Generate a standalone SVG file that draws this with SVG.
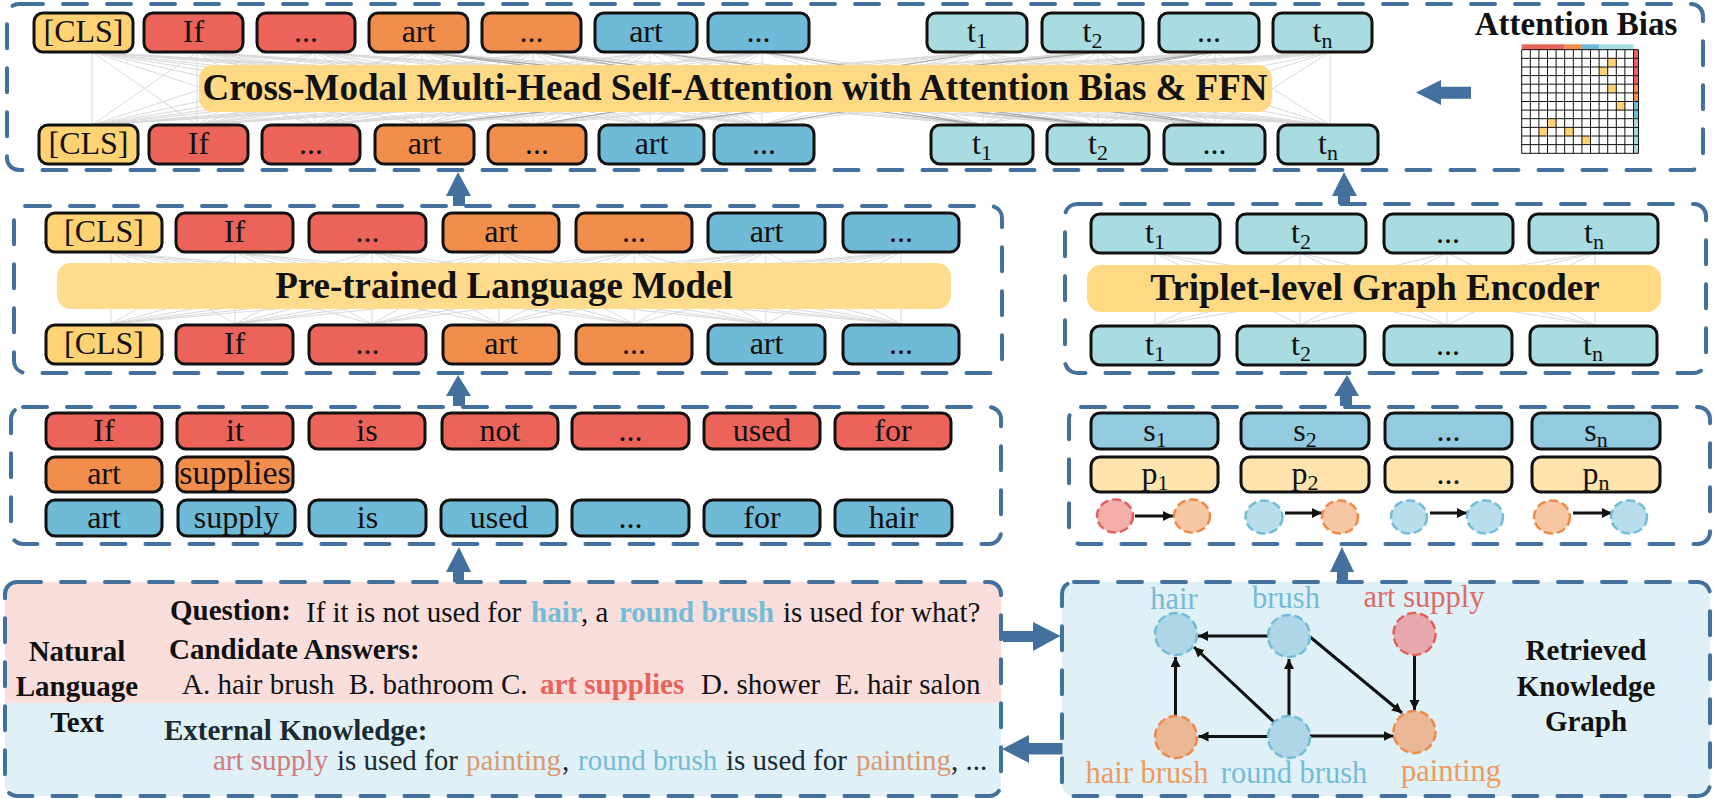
<svg xmlns="http://www.w3.org/2000/svg" width="1714" height="799" viewBox="0 0 1714 799">
<style>
text{font-family:"Liberation Serif","Times New Roman",serif;fill:#111}
.b{stroke:#111;stroke-width:3;rx:9px}
.cls{fill:#FFD274}.red{fill:#EC6459}.org{fill:#F28E4C}.blu{fill:#6FBAD6}.tea{fill:#A9DCE0}.sb{fill:#92CBE0}.pb{fill:#FFE4AE}
.l{font-size:32px;text-anchor:middle}
.sub{font-size:22px}
.pn{fill:none;stroke:#44709D;stroke-width:4;stroke-dasharray:24 20;stroke-linecap:round}
.band{fill:#FFD984;rx:14px}
.t{font-weight:bold;font-size:37px;text-anchor:middle}
.bd{font-weight:bold;font-size:29px}
.mid{text-anchor:middle}
.tx{font-size:29px}
.ar{fill:#44709D}
.fan{fill:none;stroke:#D9D9D9;stroke-width:1}
.edge{fill:none;stroke:#111;stroke-width:3;marker-end:url(#ah)}
.dot{stroke-width:2.5;stroke-dasharray:9 4}
.kg{font-size:30.5px;text-anchor:middle}
.nb{fill:#AED6E6;stroke:#74BBD7}.nr{fill:#E6A8AC;stroke:#E0605C}.no{fill:#EAB896;stroke:#EE8A48}
.lb{fill:#B9DEEB;stroke:#74BBD7}.lr{fill:#F4AFAB;stroke:#E0605C}.lo{fill:#F7C6A3;stroke:#EE8A48}
.grid{fill:none;stroke:#111;stroke-width:1}
</style>
<defs>
<marker id="ah" markerUnits="userSpaceOnUse" markerWidth="12" markerHeight="12" refX="10" refY="5" orient="auto"><path d="M0 0L10 5L0 10Z" fill="#111"/></marker>
</defs>

<g id="panels">
<path d="M5 594Q5 582 17 582H989Q1001 582 1001 594V703H5Z" fill="#FADEDC"/>
<path d="M5 703H1001V784Q1001 796 989 796H17Q5 796 5 784Z" fill="#E0F0F7"/>
<rect x="1062" y="582" width="648" height="214" rx="12" fill="#E0F0F7"/>
<rect class="pn" x="7" y="4" width="1696" height="166" rx="12"/>
<rect class="pn" x="14" y="206" width="988" height="167" rx="12"/>
<rect class="pn" x="1065" y="204" width="641" height="169" rx="12"/>
<rect class="pn" x="11" y="407" width="990" height="137" rx="12"/>
<rect class="pn" x="1069" y="407" width="641" height="137" rx="12"/>
<rect class="pn" x="5" y="582" width="996" height="214" rx="12"/>
<rect class="pn" x="1062" y="582" width="648" height="214" rx="12"/>
</g>

<g id="connectors">
<path class="fan" d="M92 52L92 125M92 52L197 125M92 52L315 125M92 52L422 125M92 52L533 125M92 52L650 125M92 52L762 125M92 52L983 125M92 52L1098 125M92 52L1215 125M92 52L1330 125
M197 52L92 125M197 52L197 125M197 52L315 125M197 52L422 125M197 52L533 125M197 52L650 125M197 52L762 125M197 52L983 125M197 52L1098 125M197 52L1215 125M197 52L1330 125
M315 52L92 125M315 52L197 125M315 52L315 125M315 52L422 125M315 52L533 125M315 52L650 125M315 52L762 125M315 52L983 125M315 52L1098 125M315 52L1215 125M315 52L1330 125
M422 52L92 125M422 52L197 125M422 52L315 125M422 52L422 125M422 52L533 125M422 52L650 125M422 52L762 125M422 52L983 125M422 52L1098 125M422 52L1215 125M422 52L1330 125
M533 52L92 125M533 52L197 125M533 52L315 125M533 52L422 125M533 52L533 125M533 52L650 125M533 52L762 125M533 52L983 125M533 52L1098 125M533 52L1215 125M533 52L1330 125
M650 52L92 125M650 52L197 125M650 52L315 125M650 52L422 125M650 52L533 125M650 52L650 125M650 52L762 125M650 52L983 125M650 52L1098 125M650 52L1215 125M650 52L1330 125
M762 52L92 125M762 52L197 125M762 52L315 125M762 52L422 125M762 52L533 125M762 52L650 125M762 52L762 125M762 52L983 125M762 52L1098 125M762 52L1215 125M762 52L1330 125
M983 52L92 125M983 52L197 125M983 52L315 125M983 52L422 125M983 52L533 125M983 52L650 125M983 52L762 125M983 52L983 125M983 52L1098 125M983 52L1215 125M983 52L1330 125
M1098 52L92 125M1098 52L197 125M1098 52L315 125M1098 52L422 125M1098 52L533 125M1098 52L650 125M1098 52L762 125M1098 52L983 125M1098 52L1098 125M1098 52L1215 125M1098 52L1330 125
M1215 52L92 125M1215 52L197 125M1215 52L315 125M1215 52L422 125M1215 52L533 125M1215 52L650 125M1215 52L762 125M1215 52L983 125M1215 52L1098 125M1215 52L1215 125M1215 52L1330 125
M1330 52L92 125M1330 52L197 125M1330 52L315 125M1330 52L422 125M1330 52L533 125M1330 52L650 125M1330 52L762 125M1330 52L983 125M1330 52L1098 125M1330 52L1215 125M1330 52L1330 125"/>
<path d="M422 52L983 125M422 52L1098 125M533 52L983 125M533 52L1098 125M650 52L1215 125M762 52L1215 125M1098 52L422 125M1215 52L650 125M1215 52L762 125M983 52L533 125" fill="none" stroke="#A8A8A8" stroke-width="1.2"/>
<path class="fan" d="M111 252L111 324M111 252L235 324M111 252L372 324M111 252L499 324M111 252L634 324M111 252L766 324M111 252L901 324
M235 252L111 324M235 252L235 324M235 252L372 324M235 252L499 324M235 252L634 324M235 252L766 324M235 252L901 324
M372 252L111 324M372 252L235 324M372 252L372 324M372 252L499 324M372 252L634 324M372 252L766 324M372 252L901 324
M499 252L111 324M499 252L235 324M499 252L372 324M499 252L499 324M499 252L634 324M499 252L766 324M499 252L901 324
M634 252L111 324M634 252L235 324M634 252L372 324M634 252L499 324M634 252L634 324M634 252L766 324M634 252L901 324
M766 252L111 324M766 252L235 324M766 252L372 324M766 252L499 324M766 252L634 324M766 252L766 324M766 252L901 324
M901 252L111 324M901 252L235 324M901 252L372 324M901 252L499 324M901 252L634 324M901 252L766 324M901 252L901 324"/>
<path class="fan" d="M1155 253L1155 325M1155 253L1300 325M1155 253L1447 325M1155 253L1595 325
M1300 253L1155 325M1300 253L1300 325M1300 253L1447 325M1300 253L1595 325
M1447 253L1155 325M1447 253L1300 325M1447 253L1447 325M1447 253L1595 325
M1595 253L1155 325M1595 253L1300 325M1595 253L1447 325M1595 253L1595 325"/>
<path class="edge" d="M1268.5 636H1198"/>
<path class="edge" d="M1175.5 715V657"/>
<path class="edge" d="M1274 722L1194 647"/>
<path class="edge" d="M1289 717V659"/>
<path class="edge" d="M1309 636L1402 713"/>
<path class="edge" d="M1414.5 655V710"/>
<path class="edge" d="M1269 736.5H1198.5"/>
<path class="edge" d="M1309 736H1393.5"/>
<path class="edge" d="M1135 516H1173"/>
<path class="edge" d="M1285 513H1322"/>
<path class="edge" d="M1430 513H1467"/>
<path class="edge" d="M1573 513H1612"/>
<path class="ar" d="M458 172L471 196H465V206H453V196H446Z"/>
<path class="ar" d="M1344 172L1357 196H1350V204H1338V196H1332Z"/>
<path class="ar" d="M458 375L471 396H465V406H453V396H446Z"/>
<path class="ar" d="M1347 375L1359 396H1352V406H1340V396H1334Z"/>
<path class="ar" d="M459 547L471 572H464V582H453V572H446Z"/>
<path class="ar" d="M1342 547L1354 572H1348V582H1337V572H1330Z"/>
<path class="ar" d="M1416 92.5L1441 80V86.7H1471V98.7H1441V105Z"/>
<path class="ar" d="M1003 631H1033V622L1060.5 636L1033 651V642H1003Z"/>
<path class="ar" d="M1002 749L1029 735V743H1062.5V754.5H1029V763Z"/>
</g>

<g id="top-in">
<g id="t1"><rect class="b cls" x="34" y="13" width="99" height="39"/><text class="l" x="83.5" y="42">[CLS]</text></g>
<g id="t2"><rect class="b red" x="144" y="13" width="99" height="39"/><text class="l" x="193.5" y="42">If</text></g>
<g id="t3"><rect class="b red" x="257" y="13" width="98" height="39"/><text class="l" x="306" y="42">...</text></g>
<g id="t4"><rect class="b org" x="369" y="13" width="99" height="39"/><text class="l" x="418.5" y="42">art</text></g>
<g id="t5"><rect class="b org" x="482" y="13" width="99" height="39"/><text class="l" x="531.5" y="42">...</text></g>
<g id="t6"><rect class="b blu" x="595" y="13" width="102" height="39"/><text class="l" x="646" y="42">art</text></g>
<g id="t7"><rect class="b blu" x="708" y="13" width="101" height="39"/><text class="l" x="758.5" y="42">...</text></g>
<g id="t8"><rect class="b tea" x="927" y="13" width="100" height="39"/><text class="l" x="977" y="42">t<tspan class="sub" dy="6">1</tspan></text></g>
<g id="t9"><rect class="b tea" x="1042" y="13" width="101" height="39"/><text class="l" x="1092.5" y="42">t<tspan class="sub" dy="6">2</tspan></text></g>
<g id="t10"><rect class="b tea" x="1159" y="13" width="100" height="39"/><text class="l" x="1209" y="42">...</text></g>
<g id="t11"><rect class="b tea" x="1273" y="13" width="99" height="39"/><text class="l" x="1322.5" y="42">t<tspan class="sub" dy="6">n</tspan></text></g>
</g>
<g id="cross-band"><rect class="band" x="199" y="65" width="1073" height="47"/><text class="t" x="735" y="100">Cross-Modal Multi-Head Self-Attention with Attention Bias &amp; FFN</text></g>
<g id="top-out">
<g id="b1"><rect class="b cls" x="39" y="125" width="99" height="39"/><text class="l" x="88.5" y="154">[CLS]</text></g>
<g id="b2"><rect class="b red" x="149" y="125" width="99" height="39"/><text class="l" x="198.5" y="154">If</text></g>
<g id="b3"><rect class="b red" x="262" y="125" width="98" height="39"/><text class="l" x="311" y="154">...</text></g>
<g id="b4"><rect class="b org" x="375" y="125" width="99" height="39"/><text class="l" x="424.5" y="154">art</text></g>
<g id="b5"><rect class="b org" x="488" y="125" width="98" height="39"/><text class="l" x="537" y="154">...</text></g>
<g id="b6"><rect class="b blu" x="599" y="125" width="105" height="39"/><text class="l" x="651.5" y="154">art</text></g>
<g id="b7"><rect class="b blu" x="714" y="125" width="100" height="39"/><text class="l" x="764" y="154">...</text></g>
<g id="b8"><rect class="b tea" x="931" y="125" width="102" height="39"/><text class="l" x="982" y="154">t<tspan class="sub" dy="6">1</tspan></text></g>
<g id="b9"><rect class="b tea" x="1047" y="125" width="102" height="39"/><text class="l" x="1098" y="154">t<tspan class="sub" dy="6">2</tspan></text></g>
<g id="b10"><rect class="b tea" x="1164" y="125" width="101" height="39"/><text class="l" x="1214.5" y="154">...</text></g>
<g id="b11"><rect class="b tea" x="1278" y="125" width="100" height="39"/><text class="l" x="1328" y="154">t<tspan class="sub" dy="6">n</tspan></text></g>
</g>

<g id="plm-in">
<g id="p1"><rect class="b cls" x="46" y="213" width="116" height="39"/><text class="l" x="104" y="242">[CLS]</text></g>
<g id="p2"><rect class="b red" x="176" y="213" width="117" height="39"/><text class="l" x="234.5" y="242">If</text></g>
<g id="p3"><rect class="b red" x="309" y="213" width="117" height="39"/><text class="l" x="367.5" y="242">...</text></g>
<g id="p4"><rect class="b org" x="443" y="213" width="116" height="39"/><text class="l" x="501" y="242">art</text></g>
<g id="p5"><rect class="b org" x="576" y="213" width="116" height="39"/><text class="l" x="634" y="242">...</text></g>
<g id="p6"><rect class="b blu" x="708" y="213" width="117" height="39"/><text class="l" x="766.5" y="242">art</text></g>
<g id="p7"><rect class="b blu" x="843" y="213" width="116" height="39"/><text class="l" x="901" y="242">...</text></g>
</g>
<g id="plm-band"><rect class="band" x="57" y="263" width="894" height="46" style="opacity:.92"/><text class="t" x="504" y="298">Pre-trained Language Model</text></g>
<g id="plm-out">
<g id="q1"><rect class="b cls" x="46" y="325" width="116" height="39"/><text class="l" x="104" y="354">[CLS]</text></g>
<g id="q2"><rect class="b red" x="176" y="325" width="117" height="39"/><text class="l" x="234.5" y="354">If</text></g>
<g id="q3"><rect class="b red" x="309" y="325" width="117" height="39"/><text class="l" x="367.5" y="354">...</text></g>
<g id="q4"><rect class="b org" x="443" y="325" width="116" height="39"/><text class="l" x="501" y="354">art</text></g>
<g id="q5"><rect class="b org" x="576" y="325" width="116" height="39"/><text class="l" x="634" y="354">...</text></g>
<g id="q6"><rect class="b blu" x="708" y="325" width="117" height="39"/><text class="l" x="766.5" y="354">art</text></g>
<g id="q7"><rect class="b blu" x="843" y="325" width="116" height="39"/><text class="l" x="901" y="354">...</text></g>
</g>

<g id="tri-in">
<g id="g1"><rect class="b tea" x="1091" y="214" width="129" height="39"/><text class="l" x="1155" y="243">t<tspan class="sub" dy="6">1</tspan></text></g>
<g id="g2"><rect class="b tea" x="1237" y="214" width="129" height="39"/><text class="l" x="1301" y="243">t<tspan class="sub" dy="6">2</tspan></text></g>
<g id="g3"><rect class="b tea" x="1384" y="214" width="129" height="39"/><text class="l" x="1448" y="243">...</text></g>
<g id="g4"><rect class="b tea" x="1529" y="214" width="129" height="39"/><text class="l" x="1594" y="243">t<tspan class="sub" dy="6">n</tspan></text></g>
</g>
<g id="tri-band"><rect class="band" x="1087" y="265" width="574" height="47"/><text class="t" x="1375" y="300">Triplet-level Graph Encoder</text></g>
<g id="tri-out">
<g id="h1"><rect class="b tea" x="1091" y="326" width="128" height="39"/><text class="l" x="1155" y="355">t<tspan class="sub" dy="6">1</tspan></text></g>
<g id="h2"><rect class="b tea" x="1237" y="326" width="128" height="39"/><text class="l" x="1301" y="355">t<tspan class="sub" dy="6">2</tspan></text></g>
<g id="h3"><rect class="b tea" x="1384" y="326" width="128" height="39"/><text class="l" x="1448" y="355">...</text></g>
<g id="h4"><rect class="b tea" x="1530" y="326" width="127" height="39"/><text class="l" x="1593" y="355">t<tspan class="sub" dy="6">n</tspan></text></g>
</g>

<g id="tokens">
<g id="w1"><rect class="b red" x="46" y="413" width="116" height="36"/><text class="l" x="104" y="441">If</text></g>
<g id="w2"><rect class="b red" x="177" y="413" width="116" height="36"/><text class="l" x="235" y="441">it</text></g>
<g id="w3"><rect class="b red" x="309" y="413" width="116" height="36"/><text class="l" x="367" y="441">is</text></g>
<g id="w4"><rect class="b red" x="442" y="413" width="116" height="36"/><text class="l" x="500" y="441">not</text></g>
<g id="w5"><rect class="b red" x="572" y="413" width="117" height="36"/><text class="l" x="630.5" y="441">...</text></g>
<g id="w6"><rect class="b red" x="704" y="413" width="116" height="36"/><text class="l" x="762" y="441">used</text></g>
<g id="w7"><rect class="b red" x="835" y="413" width="116" height="36"/><text class="l" x="893" y="441">for</text></g>
<g id="w8"><rect class="b org" x="46" y="457" width="116" height="35"/><text class="l" x="104" y="484">art</text></g>
<g id="w9"><rect class="b org" x="177" y="457" width="116" height="35"/><text class="l" x="235" y="484" style="font-size:34px">supplies</text></g>
<g id="w10"><rect class="b blu" x="46" y="500" width="116" height="36"/><text class="l" x="104" y="528">art</text></g>
<g id="w11"><rect class="b blu" x="178" y="500" width="117" height="36"/><text class="l" x="236.5" y="528">supply</text></g>
<g id="w12"><rect class="b blu" x="309" y="500" width="117" height="36"/><text class="l" x="367.5" y="528">is</text></g>
<g id="w13"><rect class="b blu" x="441" y="500" width="116" height="36"/><text class="l" x="499" y="528">used</text></g>
<g id="w14"><rect class="b blu" x="572" y="500" width="117" height="36"/><text class="l" x="630.5" y="528">...</text></g>
<g id="w15"><rect class="b blu" x="704" y="500" width="116" height="36"/><text class="l" x="762" y="528">for</text></g>
<g id="w16"><rect class="b blu" x="835" y="500" width="117" height="36"/><text class="l" x="893.5" y="528">hair</text></g>
</g>

<g id="triples">
<g id="s1"><rect class="b sb" x="1091" y="413" width="127" height="36"/><text class="l" x="1155" y="441">s<tspan class="sub" dy="6">1</tspan></text></g>
<g id="s2"><rect class="b sb" x="1241" y="413" width="128" height="36"/><text class="l" x="1305" y="441">s<tspan class="sub" dy="6">2</tspan></text></g>
<g id="s3"><rect class="b sb" x="1385" y="413" width="127" height="36"/><text class="l" x="1448.5" y="441">...</text></g>
<g id="s4"><rect class="b sb" x="1532" y="413" width="128" height="36"/><text class="l" x="1596" y="441">s<tspan class="sub" dy="6">n</tspan></text></g>
<g id="p-1"><rect class="b pb" x="1091" y="457" width="127" height="35"/><text class="l" x="1155" y="484">p<tspan class="sub" dy="6">1</tspan></text></g>
<g id="p-2"><rect class="b pb" x="1241" y="457" width="128" height="35"/><text class="l" x="1305" y="484">p<tspan class="sub" dy="6">2</tspan></text></g>
<g id="p-3"><rect class="b pb" x="1385" y="457" width="127" height="35"/><text class="l" x="1448.5" y="484">...</text></g>
<g id="p-4"><rect class="b pb" x="1532" y="457" width="128" height="35"/><text class="l" x="1596" y="484">p<tspan class="sub" dy="6">n</tspan></text></g>
<ellipse id="c1" class="dot lr" cx="1115" cy="516" rx="18" ry="16.5"/>
<ellipse id="c2" class="dot lo" cx="1192" cy="516" rx="18" ry="16.5"/>
<ellipse id="c3" class="dot lb" cx="1264" cy="517" rx="18.5" ry="16.5"/>
<ellipse id="c4" class="dot lo" cx="1340" cy="517" rx="18" ry="16.5"/>
<ellipse id="c5" class="dot lb" cx="1409" cy="517" rx="18" ry="16.5"/>
<ellipse id="c6" class="dot lb" cx="1485" cy="517" rx="18" ry="16.5"/>
<ellipse id="c7" class="dot lo" cx="1552" cy="517" rx="18" ry="16.5"/>
<ellipse id="c8" class="dot lb" cx="1629" cy="517" rx="18" ry="16.5"/>
</g>

<g id="text-panel">
<text class="bd mid" x="77" y="661">Natural</text>
<text class="bd mid" x="77" y="696">Language</text>
<text class="bd mid" x="77" y="732">Text</text>
<text class="bd" x="170" y="620">Question:</text>
<text class="tx" x="306" y="622">If it is not used for</text>
<text class="tx" x="531" y="622" style="font-weight:bold;fill:#74BBD7">hair</text>
<text class="tx" x="581" y="622">, a</text>
<text class="tx" x="619" y="622" style="font-weight:bold;fill:#74BBD7">round brush</text>
<text class="tx" x="783" y="622">is used for what?</text>
<text class="bd" x="169" y="659">Candidate Answers:</text>
<text class="tx" x="182" y="694" xml:space="preserve">A. hair brush  B. bathroom C.</text>
<text class="tx" x="540" y="694" style="font-weight:bold;fill:#E8635A">art supplies</text>
<text class="tx" x="701" y="694" xml:space="preserve">D. shower  E. hair salon</text>
<text class="bd" x="164" y="740" style="fill:#1A2A33">External Knowledge:</text>
<text class="tx" x="213" y="770" style="fill:#CF7B7B">art supply</text>
<text class="tx" x="337" y="770" style="fill:#1A2A33">is used for</text>
<text class="tx" x="466" y="770" style="fill:#D79A70">painting</text>
<text class="tx" x="562" y="770" style="fill:#1A2A33">,</text>
<text class="tx" x="578" y="770" style="fill:#74BBD7">round brush</text>
<text class="tx" x="726" y="770" style="fill:#1A2A33">is used for</text>
<text class="tx" x="856" y="770" style="fill:#D79A70">painting</text>
<text class="tx" x="951" y="770" style="fill:#1A2A33">, ...</text>
</g>

<g id="kg">
<g id="k1"><ellipse class="dot nb" cx="1176" cy="634" rx="21" ry="21"/><text class="kg" x="1174" y="609" style="fill:#74BBD7">hair</text></g>
<g id="k2"><ellipse class="dot nb" cx="1289" cy="636" rx="21" ry="21"/><text class="kg" x="1286" y="608" style="fill:#74BBD7">brush</text></g>
<g id="k3"><ellipse class="dot nr" cx="1414.5" cy="634" rx="21" ry="21"/><text class="kg" x="1424" y="607" style="fill:#DD6A66">art supply</text></g>
<g id="k4"><ellipse class="dot no" cx="1176" cy="737" rx="21" ry="21"/><text class="kg" x="1147" y="783" style="fill:#EE9A5E">hair brush</text></g>
<g id="k5"><ellipse class="dot nb" cx="1289" cy="737" rx="21" ry="21"/><text class="kg" x="1294" y="783" style="fill:#74BBD7">round brush</text></g>
<g id="k6"><ellipse class="dot no" cx="1414.5" cy="732" rx="21" ry="21"/><text class="kg" x="1451" y="781" style="fill:#EE9A5E">painting</text></g>
<text class="bd mid" x="1586" y="660">Retrieved</text>
<text class="bd mid" x="1586" y="696">Knowledge</text>
<text class="bd mid" x="1586" y="731">Graph</text>
</g>

<g id="attention-bias">
<text x="1576" y="35" style="font-weight:bold;font-size:33px;text-anchor:middle">Attention Bias</text>
<rect x="1521.7" y="44.3" width="43" height="5.7" fill="#E8635A"/>
<rect x="1564.7" y="44.3" width="17.2" height="5.7" fill="#F28E4C"/>
<rect x="1581.9" y="44.3" width="17.2" height="5.7" fill="#6FBAD6"/>
<rect x="1599.1" y="44.3" width="34.4" height="5.7" fill="#A9DCE0"/>
<rect x="1633.5" y="49.7" width="5" height="34.5" fill="#E8635A"/>
<rect x="1633.5" y="84.2" width="5" height="17.3" fill="#F28E4C"/>
<rect x="1633.5" y="101.5" width="5" height="17.3" fill="#6FBAD6"/>
<rect x="1633.5" y="118.8" width="5" height="34.5" fill="#A9DCE0"/>
<g fill="#FFD274">
<rect x="1607.7" y="58.3" width="8.6" height="8.6"/>
<rect x="1599.1" y="67" width="8.6" height="8.6"/>
<rect x="1607.7" y="84.2" width="8.6" height="8.6"/>
<rect x="1616.3" y="101.5" width="8.6" height="8.6"/>
<rect x="1547.5" y="118.7" width="8.6" height="8.6"/>
<rect x="1538.9" y="127.4" width="8.6" height="8.6"/>
<rect x="1564.7" y="127.4" width="8.6" height="8.6"/>
<rect x="1581.9" y="136" width="8.6" height="8.6"/>
</g>
<path class="grid" d="M1521.7 49.7V153.3M1530.3 49.7V153.3M1538.9 49.7V153.3M1547.5 49.7V153.3M1556.1 49.7V153.3M1564.7 49.7V153.3M1573.3 49.7V153.3M1581.9 49.7V153.3M1590.5 49.7V153.3M1599.1 49.7V153.3M1607.7 49.7V153.3M1616.3 49.7V153.3M1624.9 49.7V153.3M1633.5 49.7V153.3M1638.5 49.7V153.3
M1521.7 49.7H1638.5M1521.7 58.3H1638.5M1521.7 67H1638.5M1521.7 75.6H1638.5M1521.7 84.2H1638.5M1521.7 92.9H1638.5M1521.7 101.5H1638.5M1521.7 110.1H1638.5M1521.7 118.7H1638.5M1521.7 127.4H1638.5M1521.7 136H1638.5M1521.7 144.6H1638.5M1521.7 153.3H1638.5"/>
</g>
</svg>
